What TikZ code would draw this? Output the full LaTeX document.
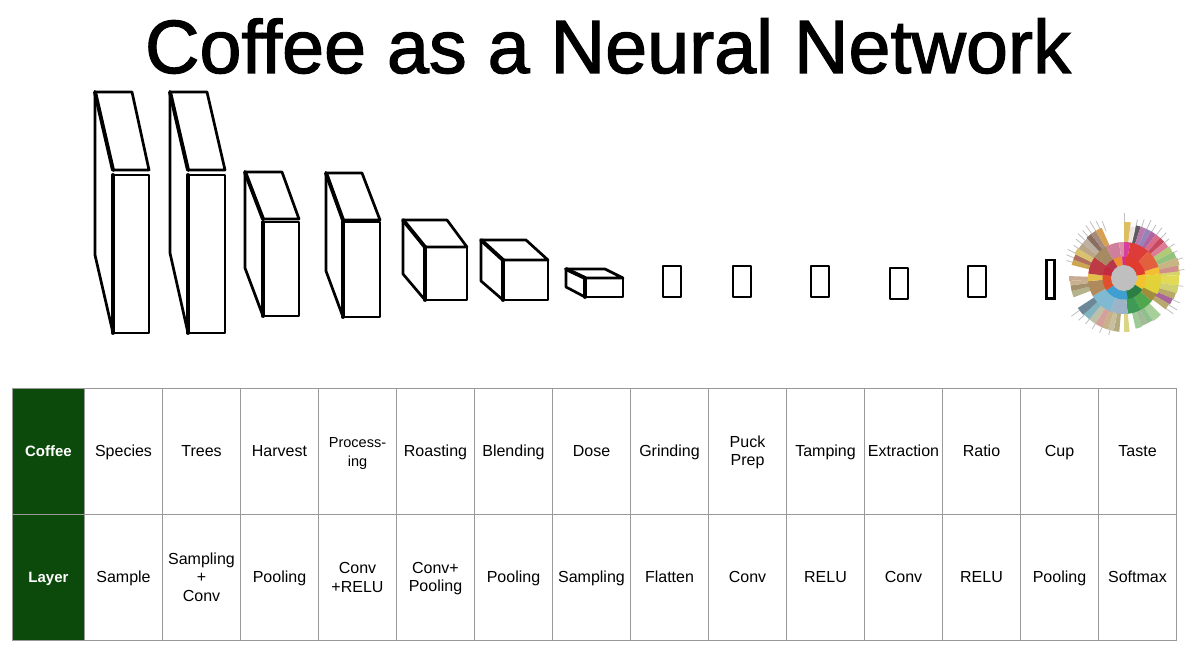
\documentclass[tikz,border=0pt]{standalone}
\usepackage{fontspec}
\setmainfont{Liberation Sans}
\newfontfamily\titlefont[FakeBold=1.6,Ligatures=NoCommon]{Liberation Sans}
\newcommand{\cellstrut}{\rule[-3.1pt]{0pt}{17.6pt}}
\newcommand{\smallcell}{\fontsize{14.5}{18.6}\selectfont}
\tikzset{
	boxline/.style={line width=2.7pt, line join=round, line cap=round},
	boxheavy/.style={line width=3.9pt, line join=round, line cap=round},
	cell/.style={draw=cellgray, line width=1pt, minimum width=78pt, minimum height=126pt, inner sep=0pt, align=center, font=\fontsize{16}{18.6}\selectfont},
	headcell/.style={cell, fill=coffeegreen, text=white, minimum width=72pt, font=\fontsize{15}{18.6}\selectfont\bfseries},
	spike/.style={line width=0.8pt, gray!50},
}
\definecolor{cellgray}{HTML}{999999}
\definecolor{coffeegreen}{HTML}{0B4A0A}
\begin{document}
\begin{tikzpicture}[x=1pt,y=-1pt]
	\useasboundingbox (0,0) rectangle (1200,666);
	\node[anchor=base] (title) at (608,73) {\titlefont\fontsize{75.5}{80}\selectfont Coffee as a Neural Network};

	% layers with depth
	\foreach \xb/\yb/\xr/\xf/\xg/\yt/\yf/\yz/\ys in {95/92/132/113/149/170/175/333/255, 170/92/207/188/225/170/175/333/253, 245/172/282/263/299/219/222/316/268, 326/173/362/343/380/220/222/317/271, 403/220/447/425/467/247/247/300/274, 481/240/526/503/548/260/260/300/281, 566/269/605/585/623/278/278/297/287}{
		\draw[boxline] (\xb,\yb) -- (\xr,\yb) -- (\xg,\yt) -- (\xf,\yt);
		\draw[boxline] (\xb,\yb) -- (\xb,\ys) -- (\xf,\yz);
		\draw[boxline] (\xf,\yf) rectangle (\xg,\yz);
		\draw[boxheavy] (\xb,\yb) -- (\xf,\yt);
		\draw[boxheavy] (\xf,\yf) -- (\xf,\yz);
	}

	% flat layers
	\foreach \xa/\ya/\xc/\yc in {663/266/681/297, 733/266/751/297, 811/266/829/297, 890/268/908/299, 968/266/986/297}{
		\draw[boxline] (\xa,\ya) rectangle (\xc,\yc);
	}
	\draw[line width=2.7pt] (1046.5,260) rectangle (1054.5,298.5);

	% flavour wheel
	\coordinate (taste) at (1124,278);
	\foreach \t/\l in {197/60, 202/62, 207/63, 213/60, 219/62, 224/64, 229/63, 234/65, 239/66, 244/63, 249/61, 270/65, 283/60, 289/62, 295/64, 301/62, 307/63, 313/62, 319/60, 326/61, 333/60, 341/62, 352/61, 8/60, 24/61, 31/62, 36/61, 105/59, 114/60, 122/60, 130/60, 137/62, 144/65}{
		\draw[spike] ([shift={(taste)}]\t:50) -- ([shift={(taste)}]\t:\l);
	}
	\foreach \a/\b/\r/\c in {
		-20/-10/56/C9C98A, -10/-3/56/D8D36A, -3/8/55/E0DA55, 8/16/55/CFD070, 16/23/54/B9A968, 23/30/53/A9659A, 30/37/52/B8A96E,
		45/56/52/A6CF9A, 56/63/51/8FBF8C, 63/70/51/A4B89A, 70/77/52/9CCB95,
		84/90/54/DAD484, 95/101/54/B5A97E, 101/107/54/C7C0A0, 107/114/54/C8B088, 114/122/54/D4A09A, 122/130/54/BFC0A8, 130/138/54/82B4C2, 138/147/55/6B8798,
		159/166/54/B4B38C, 166/172/54/A4906A, 172/177/54/C9B08F, 177/182/55/C7AB92,
		194/200/54/CDA650, 200/206/54/B06F5E, 206/213/55/D8C26E, 213/220/54/BCA68A, 220/227/54/BDB2A2, 227/233/55/8B6E62, 233/239/55/A68C7C, 239/246/55/D7A155,
		270/277/56/DDBE62, 277/282/52/ECE8E0, 283/288/54/605C62, 288/294/54/B878AC, 294/300/54/9484B8, 300/306/54/B065A2, 306/312/54/D96A88, 312/318/54/C8485F, 318/325/54/DC7C96, 325/332/55/B0CA78, 332/339/56/93C27F, 339/347/57/C7B684, 347/353/55/D08E8C}{
		\definecolor{wedge}{HTML}{\c}
		\fill[wedge] ([shift={(taste)}]\a:34) arc[start angle=\a, end angle=\b, radius=34] -- ([shift={(taste)}]\b:\r) arc[start angle=\b, end angle=\a, radius=\r] -- cycle;
	}
	\foreach \a/\b/\r/\c in {
		-18/-6/36/F4BE34, -6/26/37/E0D238, 26/40/36/A08E3C, 40/62/36/4FA84E, 62/84/36/3F9A55, 84/112/36/9DB4C8, 112/150/36/7FBAD2,
		150/175/36/B08A5C, 175/187/36/E3BE4C, 187/215/36/BE3A44, 215/240/36/A88A62, 240/262/36/CF7F9C, 262/270/36/DB8CA8, 270/280/36/D6409A, 280/312/36/DD3C38, 312/342/36/E2603D}{
		\definecolor{wedge}{HTML}{\c}
		\fill[wedge] ([shift={(taste)}]\a:12) arc[start angle=\a, end angle=\b, radius=12] -- ([shift={(taste)}]\b:\r) arc[start angle=\b, end angle=\a, radius=\r] -- cycle;
	}
	\foreach \a/\b/\c in {-85/-10/E03B2E, -10/32/F2C32E, 32/80/2C7F44, 80/145/3E9FD0, 145/190/E0502C, 190/215/C22A40, 215/240/B8364A, 240/265/EE9130, 265/275/D92C92}{
		\definecolor{wedge}{HTML}{\c}
		\fill[wedge] ([shift={(taste)}]\a:12) arc[start angle=\a, end angle=\b, radius=12] -- ([shift={(taste)}]\b:21.5) arc[start angle=\b, end angle=\a, radius=21.5] -- cycle;
	}
	\fill[gray!50] (taste) circle [radius=13];

	% table
	\node[headcell] (coffeehead) at (48.5,451) {\cellstrut Coffee\cellstrut};
	\node[headcell] (layerhead) at (48.5,577) {\cellstrut Layer\cellstrut};
	\foreach \n/\u/\v in {1/Species/Sample, 2/Trees/{Sampling\\+\\Conv}, 3/Harvest/Pooling, 4/{\smallcell Process-\\\smallcell ing}/{Conv\\+RELU}, 5/Roasting/{Conv+\\Pooling}, 6/Blending/Pooling, 7/Dose/Sampling, 8/Grinding/Flatten, 9/{Puck\\Prep}/Conv, 10/Tamping/RELU, 11/Extraction/Conv, 12/Ratio/RELU, 13/Cup/Pooling, 14/Taste/Softmax}{
		\node[cell] (coffee\n) at (45.5+78*\n,451) {\cellstrut\u\cellstrut};
		\node[cell] (layer\n) at (45.5+78*\n,577) {\cellstrut\v\cellstrut};
	}
\end{tikzpicture}
\end{document}
